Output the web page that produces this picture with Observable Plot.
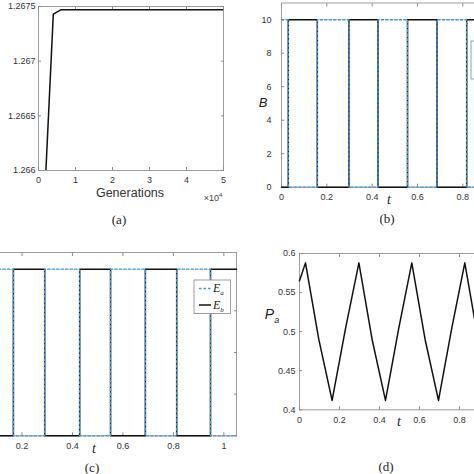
<!DOCTYPE html>
<html><head><meta charset="utf-8">
<script src="https://cdn.jsdelivr.net/npm/d3@7"></script>
<script src="https://cdn.jsdelivr.net/npm/@observablehq/plot@0.6"></script>
<style>
body{margin:0;background:#fff}
#fig{position:relative;width:474px;height:474px;overflow:hidden;background:#fff;font-family:"Liberation Sans",Arial,sans-serif}
.lbl{position:absolute;transform:translate(-50%,-50%);white-space:nowrap;color:#222;line-height:1}
</style></head><body><div id="fig"></div>
<script>
// ---- data ----
// (a) fitness vs generations
const genX = [2000, 4000, 6000, 50000];
const genY = [1.266, 1.26743, 1.26747, 1.26747];
const genYTicks = [1.266, 1.2665, 1.267, 1.2675];
const genXTicks = [0, 10000, 20000, 30000, 40000, 50000];

// (b) B square waves
const bT = [0, 0.03, 0.158, 0.2975, 0.4256, 0.556, 0.686, 0.817, 0.947, 1.05];
const bSolid = [0, 10, 0, 10, 0, 10, 0, 10, 0, 0];
const bDashed = [10, 0, 10, 0, 10, 0, 10, 0, 10, 10];
const bYTicks = [0, 2, 4, 6, 8, 10];
const tTicks = [0, 0.2, 0.4, 0.6, 0.8, 1];
const bTickLabels = [0, 0.2, 0.4, 0.6, 0.8];

// (c) E_a (dashed) and E_b (solid)
const cT = [0, 0.035, 0.166, 0.29, 0.4286, 0.551, 0.689, 0.813, 0.947, 1.05];
const cEa = [0, 10, 0, 10, 0, 10, 0, 10, 0, 0];
const cEb = [10, 0, 10, 0, 10, 0, 10, 0, 10, 10];
const cYTicks = [0, 2.5, 5, 7.5, 10];
const cTickLabels = [0.2, 0.4, 0.6, 0.8, 1];

// (d) P_a
const dT = [0, 0.03, 0.0965, 0.163, 0.23, 0.297, 0.363, 0.43, 0.496, 0.5615, 0.628, 0.695, 0.761, 0.8265, 0.893, 0.96];
const dP = [0.565, 0.588, 0.49, 0.412, 0.504, 0.588, 0.49, 0.412, 0.504, 0.588, 0.49, 0.412, 0.504, 0.588, 0.49, 0.412];
const dYTicks = [0.4, 0.45, 0.5, 0.55, 0.6];
const dTickLabels = [0, 0.2, 0.4, 0.6, 0.8];

// ---- helpers ----
const fig = document.getElementById("fig");
const toRows = (xs, ys) => xs.map((x, i) => ({x, y: ys[i]}));
const BLUE = "#4796c8";

function frameAxes({xTicks, yTicks, xLabelTicks = xTicks, xFmt, yFmt, xPad = 6, yPad = 4, yLabels = true}) {
  const tick = {tickSize: -3, tickFormat: () => "", label: null, stroke: "#8a8a8a"};
  const m = [
    Plot.frame({stroke: "#9c9c9c"}),
    Plot.axisX(xTicks, {anchor: "bottom", ...tick}),
    Plot.axisX(xTicks, {anchor: "top", ...tick}),
    Plot.axisY(yTicks, {anchor: "left", ...tick}),
    Plot.axisY(yTicks, {anchor: "right", ...tick}),
    Plot.axisX(xLabelTicks, {anchor: "bottom", tickSize: 0, tickPadding: xPad, tickFormat: xFmt, label: null, color: "#333"})
  ];
  if (yLabels) m.push(Plot.axisY(yTicks, {anchor: "left", tickSize: 0, tickPadding: yPad, tickFormat: yFmt, label: null, color: "#333"}));
  return m;
}

function place(svg, left, top) {
  svg.style.position = "absolute";
  svg.style.left = left + "px";
  svg.style.top = top + "px";
  svg.style.background = "transparent";
  svg.style.maxWidth = "none";
  fig.appendChild(svg);
}
const baseStyle = {fontFamily: "'Liberation Sans', Arial, sans-serif", fontSize: "9px", background: "transparent", color: "#333"};

// ---- (a) ----
place(Plot.plot({
  width: 236, height: 200, marginLeft: 40, marginRight: 11, marginTop: 6, marginBottom: 30,
  style: baseStyle,
  x: {domain: [0, 50000]},
  y: {domain: [1.266, 1.2675]},
  marks: [
    ...frameAxes({xTicks: genXTicks, yTicks: genYTicks, xFmt: d => String(d / 10000), yFmt: d => String(d), yPad: 3, xPad: 6}),
    Plot.line(toRows(genX, genY), {x: "x", y: "y", stroke: "#111", strokeWidth: 1.5, clip: true})
  ]
}), -2.3, 0);

// ---- (b) ----
place(Plot.plot({
  width: 288, height: 210, marginLeft: 40, marginRight: 10, marginTop: 2.5, marginBottom: 23.3,
  style: baseStyle,
  x: {domain: [0, 1.05]},
  y: {domain: [0, 11]},
  marks: [
    ...frameAxes({xTicks: tTicks, xLabelTicks: bTickLabels, yTicks: bYTicks, xFmt: d => String(d), yFmt: d => String(d), yPad: 10, xPad: 6}),
    Plot.line(toRows(bT, bSolid), {x: "x", y: "y", curve: "step-after", stroke: "#111", strokeWidth: 1.5}),
    Plot.line(toRows(bT, bDashed), {x: "x", y: "y", curve: "step-after", stroke: BLUE, strokeWidth: 1.3, strokeDasharray: "2.5,2"})
  ]
}), 240.5, 0);

// ---- (c) ----
place(Plot.plot({
  width: 315, height: 220, marginLeft: 40, marginRight: 10, marginTop: 12, marginBottom: 24.7,
  style: baseStyle,
  x: {domain: [0, 1.05]},
  y: {domain: [0, 11]},
  marks: [
    ...frameAxes({xTicks: tTicks, xLabelTicks: cTickLabels, yTicks: cYTicks, xFmt: d => String(d), yFmt: d => String(d), xPad: 7, yLabels: false}),
    Plot.line(toRows(cT, cEb), {x: "x", y: "y", curve: "step-after", stroke: "#111", strokeWidth: 1.5}),
    Plot.line(toRows(cT, cEa), {x: "x", y: "y", curve: "step-after", stroke: BLUE, strokeWidth: 1.3, strokeDasharray: "2.5,2"})
  ]
}), -69.2, 240);

// ---- (d) ----
place(Plot.plot({
  width: 260, height: 200, marginLeft: 40, marginRight: 10, marginTop: 13, marginBottom: 30.7,
  style: baseStyle,
  x: {domain: [0, 1.05]},
  y: {domain: [0.4, 0.6]},
  marks: [
    ...frameAxes({xTicks: tTicks, xLabelTicks: dTickLabels, yTicks: dYTicks, xFmt: d => String(d), yFmt: d => String(d), yPad: 4, xPad: 7}),
    Plot.line(toRows(dT, dP), {x: "x", y: "y", stroke: "#111", strokeWidth: 1.5})
  ]
}), 258.5, 240);

// ---- text labels ----
function label(html, x, y, css) {
  const d = document.createElement("div");
  d.className = "lbl";
  d.innerHTML = html;
  d.style.left = x + "px";
  d.style.top = y + "px";
  Object.assign(d.style, css || {});
  fig.appendChild(d);
}
const serif = "'Liberation Serif', 'Times New Roman', serif";
label("Generations", 130, 193, {fontSize: "12.5px", color: "#333"});
label("×10<sup style='font-size:6px'>4</sup>", 213, 197, {fontSize: "9px", color: "#444"});
label("(a)", 119, 219, {fontSize: "13px", fontFamily: serif});
label("<i>B</i>", 263, 102, {fontSize: "13px"});
label("<i>t</i>", 389, 200, {fontSize: "14px", fontFamily: serif});
label("(b)", 387, 218, {fontSize: "13px", fontFamily: serif});
label("<i>t</i>", 94, 449, {fontSize: "14px", fontFamily: serif});
label("(c)", 92, 467, {fontSize: "13px", fontFamily: serif});
label("<i>P</i><sub style='font-size:9px'><i>a</i></sub>", 272, 316, {fontSize: "14px"});
label("<i>t</i>", 399, 422, {fontSize: "14px", fontFamily: serif});
label("(d)", 386, 466, {fontSize: "13px", fontFamily: serif});

// ---- legends ----
function legendBox(left, top, w, h, inner) {
  const ns = "http://www.w3.org/2000/svg";
  const s = document.createElementNS(ns, "svg");
  s.setAttribute("width", w + 2);
  s.setAttribute("height", h + 2);
  s.style.position = "absolute";
  s.style.left = (left - 1) + "px";
  s.style.top = (top - 1) + "px";
  s.innerHTML = `<rect x="1" y="1" width="${w}" height="${h}" fill="#fff" stroke="#9c9c9c" stroke-width="1"/>` + inner;
  fig.appendChild(s);
}
legendBox(193.5, 280, 36.5, 33.5,
  `<line x1="6" x2="18" y1="9.5" y2="9.5" stroke="${BLUE}" stroke-width="1.3" stroke-dasharray="2.5,2"/>
   <text x="20" y="13" font-family="Liberation Serif, serif" font-style="italic" font-size="12" fill="#222">E<tspan font-size="7" dy="3">a</tspan></text>
   <line x1="6" x2="18" y1="26" y2="26" stroke="#111" stroke-width="1.5"/>
   <text x="20" y="29.5" font-family="Liberation Serif, serif" font-style="italic" font-size="12" fill="#222">E<tspan font-size="7" dy="3">b</tspan></text>`);
legendBox(471, 41, 40, 38, "");
</script></body></html>
